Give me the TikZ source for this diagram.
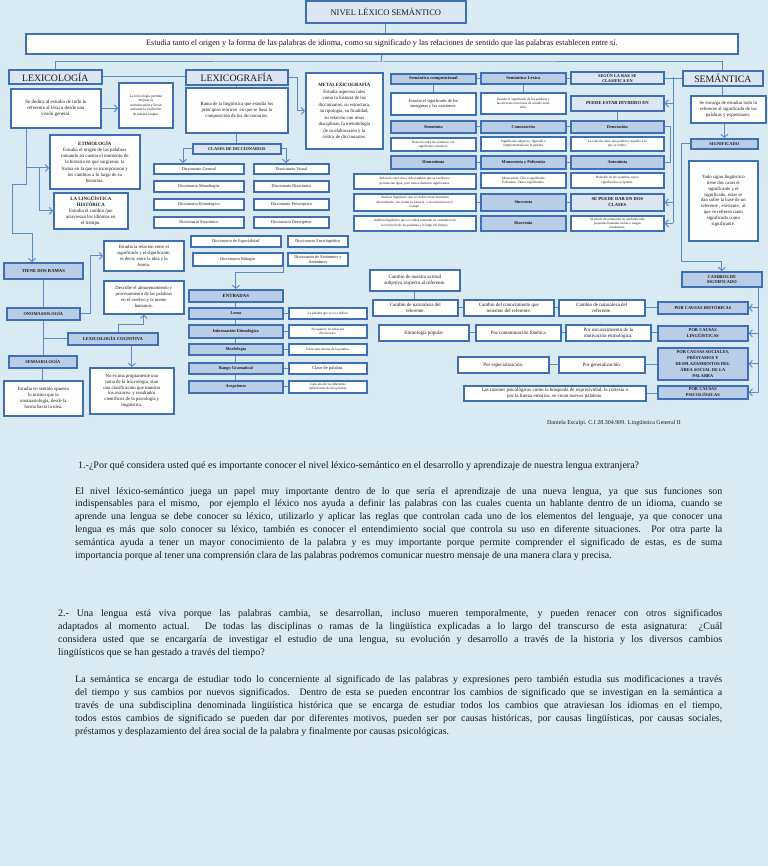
\documentclass[tikz,border=0pt]{standalone}
\usepackage{fontspec}
\setmainfont{Liberation Serif}
\usetikzlibrary{arrows.meta,calc}
\definecolor{bgc}{HTML}{DAEAF3}
\definecolor{bl}{HTML}{3F6FB6}
\definecolor{lc}{HTML}{5B8CC8}
\definecolor{hd}{HTML}{B9CDE6}
\definecolor{lt}{HTML}{DCE6F2}
\definecolor{tx}{HTML}{1A1A1A}
\pgfdeclarelayer{back}\pgfdeclarelayer{lines}\pgfsetlayers{back,lines,main}
\tikzset{
 bx/.style={draw=bl, line width=1.7pt, fill=white, text=tx, inner sep=0pt},
 hb/.style={bx, fill=hd, font=\bfseries},
 lb/.style={bx, fill=lt},
 lbb/.style={bx, fill=lt, font=\bfseries},
 con/.style={draw=lc, line width=1pt},
 arr/.style={con, -{Straight Barb[length=3pt,width=7pt]}},
 para/.style={anchor=north west, inner sep=0pt, text=tx},
}
\newcommand\BX[9]{\node[#1, anchor=north west, minimum width=#5pt, minimum height=#6pt] (#2) at (#3,#4) {\fontsize{#7}{#8}\selectfont\parbox{\dimexpr#5pt-4pt\relax}{\centering #9\par}};}
\begin{document}
\begin{tikzpicture}[x=1pt,y=-1pt]
\begin{pgfonlayer}{back}
\fill[bgc] (0,0) rectangle (768,866);
\end{pgfonlayer}
\useasboundingbox (0,0) rectangle (768,866);

% top
\BX{lb}{title}{305}{0}{160}{22}{8.5}{9}{NIVEL LÉXICO SEMÁNTICO}
\BX{bx}{desc}{25}{33}{712}{20}{8.2}{9}{Estudia tanto el origen y la forma de las palabras de idioma, como su significado y las relaciones de sentido que las palabras establecen entre sí.}

% lexicologia
\BX{lb}{lexg}{8}{69}{93}{14}{9.8}{11}{LEXICOLOGÍA}
\BX{bx}{lex1}{10}{88}{90}{39}{5}{6}{Se dedica al estudio de todo lo\\referente al léxico desde una\\visión general.}
\BX{bx}{lex2}{118}{82}{54}{45}{3.6}{4.6}{La lexicología permite\\mejorar la\\comunicación y llevar\\adelante la evolución\\de nuestra lengua.}
\BX{bx}{etim}{49}{134}{90}{54}{4.9}{6.1}{\textbf{ETIMOLOGÍA}\\Estudia el origen de las palabras\\tomando en cuenta el momento de\\la historia en que surgieron, la\\forma en la que se incorporaron y\\los cambios a lo largo de su\\historias.}
\BX{bx}{lhist}{53}{192}{74}{36}{4.9}{6}{\textbf{LA LINGÜÍSTICA\\HISTÓRICA}\\Estudia el cambio que\\atraviesan los idiomas en\\el tiempo.}
\BX{hb}{ramas}{3}{262}{79}{16}{4.6}{5.5}{TIENE DOS RAMAS}
\BX{hb}{onom}{6}{307}{73}{12}{4.4}{5.5}{ONOMASIOLOGÍA}
\BX{bx}{rel}{103}{240}{80}{30}{4.7}{6}{Estudia la relación entre el\\significado y el significante,\\es decir, entre la idea y la\\forma.}
\BX{bx}{desc2}{103}{280}{80}{33}{4.7}{6}{Describe el almacenamiento y\\procesamiento de las palabras\\en el cerebro y la mente\\humanos.}
\BX{hb}{cogn}{67}{332}{90}{12}{4.5}{5.5}{LEXICOLOGÍA COGNITIVA}
\BX{bx}{noes}{89}{367}{84}{46}{4.8}{5.8}{No es una propiamente una\\rama de la lexicología, sino\\una clasificación que muestra\\los avances \ y resultados\\científicos de la psicología y\\lingüística.}
\BX{hb}{sema}{8}{355}{68}{12}{4.4}{5.5}{SEMASIOLOGÍA}
\BX{bx}{opu}{3}{380}{79}{35}{4.8}{6}{Estudia en sentido opuesto\\lo mismo que la\\onomasiología, desde la\\forma hacia la idea.}

% lexicografia
\BX{lb}{lexf}{185}{69}{102}{15}{9.8}{11}{LEXICOGRAFÍA}
\BX{bx}{rama}{185}{87}{102}{45}{4.8}{5.6}{Rama de la lingüística que estudia los\\principios teóricos \ en que se basa la\\composición de los diccionarios.}
\BX{bx}{meta}{305}{72}{77}{76}{4.8}{6.5}{\textbf{METALEXICOGRAFÍA}\\Estudia aspectos tales\\como la historia de los\\diccionarios, su estructura,\\su tipología, su finalidad,\\su relación con otras\\disciplinas, la metodología\\de su elaboración y la\\crítica de diccionarios.}
\BX{lbb}{clases}{192}{143}{88}{10}{4.3}{5}{CLASES DE DICCIONARIOS}
\BX{bx}{dg}{153}{163}{90}{10}{4.2}{5}{Diccionario General}
\BX{bx}{dm}{153}{180}{90}{11}{4.2}{5}{Diccionario Monolingüe}
\BX{bx}{de}{153}{198}{90}{11}{4.2}{5}{Diccionario Etimológico}
\BX{bx}{ds}{153}{216}{90}{11}{4.2}{5}{Diccionario Sincrónico}
\BX{bx}{dv}{253}{163}{75}{10}{4.2}{5}{Diccionario Visual}
\BX{bx}{ddi}{253}{180}{75}{11}{4.2}{5}{Diccionario Diacrónico}
\BX{bx}{dp}{253}{198}{75}{11}{4.2}{5}{Diccionario Prescriptivo}
\BX{bx}{dd}{253}{216}{75}{11}{4.2}{5}{Diccionario Descriptivo}
\BX{bx}{desp}{190}{235}{90}{11}{4.2}{5}{Diccionario de Especialidad}
\BX{bx}{denc}{287}{235}{60}{11}{4.2}{5}{Diccionario Enciclopédico}
\BX{bx}{dbil}{192}{252}{90}{13}{4.2}{5}{Diccionario Bilingüe}
\BX{bx}{dsin}{287}{252}{60}{13}{4.2}{5}{Diccionario de Sinónimos y\\Antónimos}
\BX{hb}{entr}{188}{289}{94}{12}{4.8}{5.5}{ENTRADAS}
\BX{hb}{lema}{188}{307}{94}{11}{4.3}{5}{Lema}
\BX{hb}{infe}{188}{324}{94}{13}{4.3}{5}{Información Etimológica}
\BX{hb}{morf}{188}{343}{94}{11}{4.3}{5}{Morfología}
\BX{hb}{rango}{188}{362}{94}{11}{4.3}{5}{Rango Gramatical}
\BX{hb}{acep}{188}{380}{94}{12}{4.3}{5}{Acepciones}
\BX{bx}{e1}{288}{307}{78}{11}{3.4}{4.2}{La palabra que se va a definir}
\BX{bx}{e2}{288}{324}{78}{13}{3.4}{4.2}{No aparece en todos los\\diccionarios.}
\BX{bx}{e3}{288}{343}{78}{11}{3.4}{4.2}{Estructura interna de la palabra.}
\BX{bx}{e4}{288}{362}{78}{11}{4.6}{5}{Clase de palabra.}
\BX{bx}{e5}{288}{380}{78}{12}{3.4}{4.2}{Cada una de los diferentes\\definiciones de una palabra}

% semantica middle
\BX{hb}{semc}{390}{73}{85}{10}{4.5}{5}{Semántica composicional}
\BX{bx}{semcd}{390}{92}{85}{22}{4.4}{5.4}{Estudia el significado de los\\sintagmas y las oraciones.}
\BX{hb}{sino}{390}{120}{85}{12}{4.3}{5}{Sinonimia}
\BX{bx}{sinod}{390}{137}{85}{13}{3.3}{4.2}{Relación entre dos términos con\\significados similares.}
\BX{hb}{homo}{390}{155}{85}{13}{4.3}{5}{Homonimia}
\BX{bx}{homod}{353}{173}{122}{15}{3.4}{4.4}{Relación entre dos o más palabras que se escriben o\\pronuncian igual, pero tienen distintos significados.}
\BX{bx}{sincd}{353}{193}{122}{17}{3.4}{4.4}{Análisis lingüístico que se realiza en un momento\\determinado, \ sin contar su historia \ o su evolución en el\\tiempo.}
\BX{bx}{diacd}{353}{215}{122}{15}{3.4}{4.4}{Análisis lingüístico que se realiza tomando en consideración\\la evolución de las palabras a lo largo del tiempo.}
\BX{hb}{semle}{480}{72}{85}{11}{4.5}{5}{Semántica Léxica}
\BX{bx}{semled}{480}{92}{85}{21}{3.4}{4.4}{Estudia el significado de las palabras y\\las diversas relaciones de sentido entre\\ellas.}
\BX{hb}{conn}{480}{120}{85}{12}{4.3}{5}{Connotación}
\BX{bx}{connd}{480}{136}{85}{14}{3.4}{4.4}{Significado subjetivo, figurado o\\complementario de la palabra.}
\BX{hb}{mono}{480}{155}{85}{13}{4.3}{5}{Monosemia y Polisemia}
\BX{bx}{monod}{480}{172}{85}{15}{3.4}{4.4}{Monosemia: Único significado\\Polisemia: Varios significados.}
\BX{hb}{sinc}{480}{193}{85}{17}{4.3}{5}{Sincronía}
\BX{hb}{diac}{480}{215}{85}{15}{4.3}{5}{Diacronía}
\BX{lbb}{rae}{570}{71}{93}{12}{4.3}{5}{SEGÚN LA RAE SE\\CLASIFICA EN}
\BX{lbb}{puede}{570}{95}{93}{15}{4.6}{5.5}{PUEDE ESTAR DIVIDIDO EN}
\BX{hb}{deno}{570}{120}{93}{12}{4.3}{5}{Denotación}
\BX{bx}{denod}{570}{136}{93}{14}{3.4}{4.4}{La relación entre una palabra y aquello a lo\\que se refiere.}
\BX{hb}{anto}{570}{155}{93}{13}{4.3}{5}{Antonimia}
\BX{bx}{antod}{570}{172}{93}{15}{3.4}{4.4}{Relación de dos palabras cuyos\\significados se oponen.}
\BX{lbb}{dos}{570}{193}{93}{17}{4.6}{6}{SE PUEDE DAR EN DOS\\CLASES}
\BX{bx}{dosd}{570}{215}{93}{15}{3.4}{4.2}{Se puede descomponer en unidades más\\pequeñas llamadas semas o rasgos\\semánticos.}

% semantica right
\BX{lb}{sem}{682}{70}{80}{15}{9.8}{11}{SEMÁNTICA}
\BX{bx}{semd}{690}{95}{75}{27}{4.8}{5.7}{Se encarga de estudiar todo lo\\referente al significado de las\\palabras y expresiones.}
\BX{hb}{signif}{690}{138}{67}{10}{4.4}{5}{SIGNIFICADO}
\BX{bx}{signd}{688}{160}{69}{80}{4.8}{5.8}{Todo signo lingüístico\\tiene dos caras el\\significante y el\\significado, estas se\\dan sobre la base de un\\referente , existente, \ al\\que se refieren tanto\\significado como\\significante.}
\BX{hb}{cambios}{681}{271}{80}{15}{4.4}{5.3}{CAMBIOS DE\\SIGNIFICADO}
\BX{hb}{hist}{657}{301}{90}{12}{4.4}{5.3}{POR CAUSAS HISTÓRICAS}
\BX{hb}{ling}{657}{325}{90}{15}{4.4}{5.6}{POR CAUSAS\\LINGÜÍSTICAS}
\BX{hb}{soc}{657}{347}{90}{32}{4.4}{6}{POR CAUSAS SOCIALES,\\PRÉSTAMOS Y\\DESPLAZAMIENTOS DEL\\ÁREA SOCIAL DE LA\\PALABRA}
\BX{hb}{psic}{657}{385}{90}{13}{4.4}{5.6}{POR CAUSAS\\PSICOLÓGICAS}
\BX{bx}{actitud}{369}{269}{90}{21}{5}{6.2}{Cambio de nuestra actitud\\subjetiva respecto al referente.}
\BX{bx}{ra}{372}{299}{85}{16}{5}{6}{Cambio de naturaleza del\\referente.}
\BX{bx}{rb}{463}{299}{90}{16}{5}{6}{Cambio del conocimiento que\\tenemos del referente.}
\BX{bx}{rc}{558}{299}{86}{16}{5}{6}{Cambio de naturaleza del\\referente.}
\BX{bx}{sa}{378}{324}{90}{16}{5}{6}{Etimología popular}
\BX{bx}{sb}{475}{324}{85}{16}{5}{6}{Por contaminación fonética}
\BX{bx}{sc}{565}{324}{85}{16}{5}{6}{Por oscurecimiento de la\\motivación etimológica.}
\BX{bx}{ta}{457}{356}{91}{16}{5}{6}{Por especialización.}
\BX{bx}{tb}{558}{356}{86}{16}{5}{6}{Por generalización.}
\BX{bx}{ua}{463}{385}{182}{15}{5}{6}{Las razones psicológicas como la búsqueda de expresividad, la cortesía o\\por la fuerza emotiva, se crean nuevas palabras.}

\node[text=tx, inner sep=0pt] (foot) at (614,423) {\fontsize{6}{7}\selectfont Daniela Escalpi. C.I 28.304.909. Lingüística General II};

% connectors
\begin{pgfonlayer}{lines}
\coordinate (jt) at (381,62);
\draw[con] (title.south) -- (title.south |- desc.north);
\draw[con] (desc.south) -- (jt);
\draw[con] (lexg.north) |- (jt) -| (sem.north);
\draw[con] (lexg.east) -- (lexg.east -| lexf.west);
\draw[arr] (lex1.east) -- (lex1.east -| lex2.west);
\coordinate (b1) at (39,168);
\draw[arr] ([xshift=16pt]lex1.south west) |- (b1 -| etim.west);
\draw[arr] (b1) |- (lhist.west);
\coordinate (k1) at (12,185);
\coordinate (k2) at (32,234);
\draw[arr] ([xshift=16pt]lex1.south west) |- (k1) |- (k2) -- (k2 |- ramas.north);
\draw[con] (ramas.south) -- (ramas.south |- sema.north);
\draw[arr] (onom.east) -| ([xshift=-13pt]rel.west) -- (rel.west);
\draw[con] (ramas.south |- cogn.west) -- (cogn.west);
\draw[arr] ([xshift=51pt]cogn.north west) |- ([yshift=-10pt]desc2.south) -- (desc2.south);
\draw[arr] (cogn.south -| noes.north) -- (noes.north);
\draw[con] (sema.south) -- (sema.south |- opu.north);

\draw[con] (lexf.south) -- (rama.north);
\draw[arr] (lexf.east) -| ([xshift=-8pt]meta.west) -- (meta.west);
\draw[con] (rama.south) -- (rama.south |- clases.north);
\draw[arr] (clases.west) -| ([xshift=30pt]dg.north west);
\draw[arr] (clases.east) -| ([xshift=33pt]dv.north west);
\draw[arr] (dbil.south east) -- ++(0,6) -| (entr.north);
\draw[con] (entr.south) -- (acep.north);
\foreach \a/\b in {lema/e1,infe/e2,morf/e3,rango/e4,acep/e5}
  \draw[con] (\a.east) -- (\a.east -| \b.west);

\draw[con] (semc.south) -- (semc.south |- semcd.north);
\draw[con] (semle.south) -- (semle.south |- semled.north);
\draw[con] (semc.east) -- (semc.east -| semle.west);
\draw[con] (semle.east) -- (semle.east -| rae.west);
\draw[con] (sino.east) -- (sino.east -| conn.west);
\draw[con] (conn.east) -- (conn.east -| deno.west);
\draw[con] (homo.east) -- (homo.east -| mono.west);
\draw[con] (mono.east) -- (mono.east -| anto.west);
\draw[con] (sincd.east) -- (sincd.east -| sinc.west);
\draw[con] (sinc.east) -- (sinc.east -| dos.west);
\draw[con] (puede.south) -- (puede.south |- deno.north);
\draw[con] (sem.west) -- (sem.west -| rae.east);
\coordinate (rv) at (673,77);
\draw[con] (rv) -- (rv |- dosd.east);
\draw[arr] (rv |- puede.east) -- (puede.east);
\draw[arr] (rv |- dos.east) -- (dos.east);
\draw[arr] (rv |- dosd.east) -- (dosd.east);
\draw[con] (deno.east) -- ++(6,0) |- (anto.east);

\draw[con] (sem.south) -- (sem.south |- semd.north);
\draw[arr] (signif.north |- semd.south) -- (signif.north);
\draw[arr] (signif.west) -- ++(-9,0) |- ([yshift=9pt]cambios.north) -- (cambios.north);
\coordinate (cv) at ([xshift=-4pt]cambios.south east);
\draw[con] (cv) -- (cv |- psic.east);
\foreach \c in {hist,ling,soc,psic}
  \draw[arr] (cv |- \c.east) -- (\c.east);
\draw[con] (actitud.south) -- (actitud.south |- ra.north);
\draw[con] (ra.east) -- (ra.east -| rb.west);
\draw[con] (rb.east) -- (rb.east -| rc.west);
\draw[con] (rc.east) -- (rc.east -| hist.west);
\draw[con] (sa.east) -- (sa.east -| sb.west);
\draw[con] (sb.east) -- (sb.east -| sc.west);
\draw[con] (sc.east) -- (sc.east -| ling.west);
\draw[con] (ta.east) -- (ta.east -| tb.west);
\draw[con] (tb.east) -- (tb.east -| soc.west);
\draw[con] (ua.east) -- (ua.east -| psic.west);
\end{pgfonlayer}

% text
\node[para] (q1) at (78,461) {\fontsize{10}{12.8}\selectfont 1.-¿Por qué considera usted qué es importante conocer el nivel léxico-semántico en el desarrollo y aprendizaje de nuestra lengua extranjera?};
\node[para] (p1) at (75,487) {\fontsize{9.9}{12.8}\selectfont\parbox[t]{647pt}{\tolerance=10000\emergencystretch=20pt El nivel léxico-semántico juega un papel muy importante dentro de lo que sería el aprendizaje de una nueva lengua, ya que sus funciones son\linebreak indispensables para el mismo, \ por ejemplo el léxico nos ayuda a definir las palabras con las cuales cuenta un hablante dentro de un idioma, cuando se\linebreak aprende una lengua se debe conocer su léxico, utilizarlo y aplicar las reglas que controlan cada uno de los elementos del lenguaje, ya que conocer una\linebreak lengua es más que solo conocer su léxico, también es conocer el entendimiento social que controla su uso en diferente situaciones. Por otra parte la\linebreak semántica ayuda a tener un mayor conocimiento de la palabra y es muy importante porque permite comprender el significado de estas, es de suma\linebreak importancia porque al tener una comprensión clara de las palabras podremos comunicar nuestro mensaje de una manera clara y precisa.\par}};
\node[para] (q2) at (58,609) {\fontsize{10}{13}\selectfont\parbox[t]{664pt}{\tolerance=10000\emergencystretch=20pt 2.- Una lengua está viva porque las palabras cambia, se desarrollan, incluso mueren temporalmente, y pueden renacer con otros significados\linebreak adaptados al momento actual. De todas las disciplinas o ramas de la lingüística explicadas a lo largo del transcurso de esta asignatura: ¿Cuál\linebreak considera usted que se encargaría de investigar el estudio de una lengua, su evolución y desarrollo a través de la historia y los diversos cambios\linebreak lingüísticos que se han gestado a través del tiempo?\par}};
\node[para] (p2) at (75,675) {\fontsize{9.9}{13.2}\selectfont\parbox[t]{647pt}{\tolerance=10000\emergencystretch=20pt La semántica se encarga de estudiar todo lo concerniente al significado de las palabras y expresiones pero también estudia sus modificaciones a través\linebreak del tiempo y sus cambios por nuevos significados. Dentro de esta se pueden encontrar los cambios de significado que se investigan en la semántica a\linebreak través de una subdisciplina denominada lingüística histórica que se encarga de estudiar todos los cambios que atraviesan los idiomas en el tiempo,\linebreak todos estos cambios de significado se pueden dar por diferentes motivos, pueden ser por causas históricas, por causas lingüísticas, por causas sociales,\linebreak préstamos y desplazamiento del área social de la palabra y finalmente por causas psicológicas.\par}};
\end{tikzpicture}
\end{document}
